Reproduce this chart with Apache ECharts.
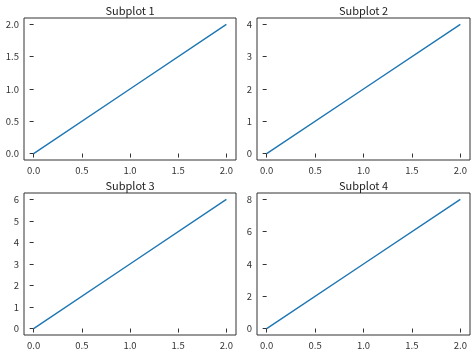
<!DOCTYPE html>
<html>
<head>
<meta charset="utf-8">
<title>subplots</title>
<script src="https://cdn.jsdelivr.net/npm/echarts@6/dist/echarts.min.js"></script>
<style>
  html, body { margin: 0; padding: 0; background: #fff; }
  #main { width: 474px; height: 353px; }
</style>
</head>
<body>
<div id="main"></div>
<script type="text/javascript">
    // data for the four panels
    var xValues = [0, 1, 2];
    var y1 = [0, 1, 2];
    var y2 = [0, 2, 4];
    var y3 = [0, 3, 6];
    var y4 = [0, 4, 8];
    var titles = ['Subplot 1', 'Subplot 2', 'Subplot 3', 'Subplot 4'];
    var xTicks = [0, 0.5, 1, 1.5, 2];
    var yTicks = [
        [0, 0.5, 1, 1.5, 2],
        [0, 1, 2, 3, 4],
        [0, 1, 2, 3, 4, 5, 6],
        [0, 2, 4, 6, 8]
    ];
    var yDecimals = [1, 0, 0, 0];
    var series = [y1, y2, y3, y4];

    var font = 'SimHei, "Noto Sans CJK SC", "DejaVu Sans", sans-serif';
    var grids = [
        {left: 24, top: 18, width: 212, height: 142},
        {left: 257, top: 18, width: 213, height: 142},
        {left: 24, top: 193, width: 212, height: 142},
        {left: 257, top: 193, width: 213, height: 142}
    ];

    // matplotlib adds 5% padding round the data
    function padRange(arr) {
        var lo = Math.min.apply(null, arr), hi = Math.max.apply(null, arr);
        var p = (hi - lo) * 0.05;
        return [lo - p, hi + p];
    }

    var option = {
        animation: false,
        backgroundColor: '#fff',
        title: [],
        grid: [],
        xAxis: [],
        yAxis: [],
        series: []
    };

    for (var i = 0; i < 4; i++) {
        var g = grids[i];
        option.grid.push({
            left: g.left, top: g.top, width: g.width, height: g.height,
            show: true, borderColor: '#333', borderWidth: 1, backgroundColor: '#fff'
        });
        option.title.push({
            text: titles[i],
            left: g.left + g.width / 2,
            top: g.top - 13,
            textAlign: 'center',
            padding: 0,
            textStyle: {fontFamily: font, fontSize: 11, fontWeight: 'normal', color: '#222'}
        });
        var xr = padRange(xValues);
        option.xAxis.push({
            type: 'value', gridIndex: i, min: xr[0], max: xr[1],
            axisLine: {show: false},
            splitLine: {show: false},
            axisTick: {show: true, inside: false, length: 4, customValues: xTicks,
                lineStyle: {color: '#333', width: 1}},
            axisLabel: {customValues: xTicks, margin: 6, color: '#333',
                fontFamily: font, fontSize: 9.5,
                formatter: function (v) { return v.toFixed(1); }}
        });
        var yr = padRange(series[i]);
        (function (dec) {
            option.yAxis.push({
                type: 'value', gridIndex: i, min: yr[0], max: yr[1],
                axisLine: {show: false},
                splitLine: {show: false},
                axisTick: {show: true, inside: false, length: 4, customValues: yTicks[i],
                    lineStyle: {color: '#333', width: 1}},
                axisLabel: {customValues: yTicks[i], margin: 5, color: '#333',
                    fontFamily: font, fontSize: 9.5,
                    formatter: function (v) { return v.toFixed(dec); }}
            });
        })(yDecimals[i]);
        option.series.push({
            type: 'line',
            xAxisIndex: i, yAxisIndex: i,
            data: xValues.map(function (x, k) { return [x, series[i][k]]; }),
            showSymbol: false,
            lineStyle: {color: '#1f77b4', width: 1.5},
            z: 1
        });
    }

    var myChart = echarts.init(document.getElementById('main'));
    myChart.setOption(option);
</script>
</body>
</html>
